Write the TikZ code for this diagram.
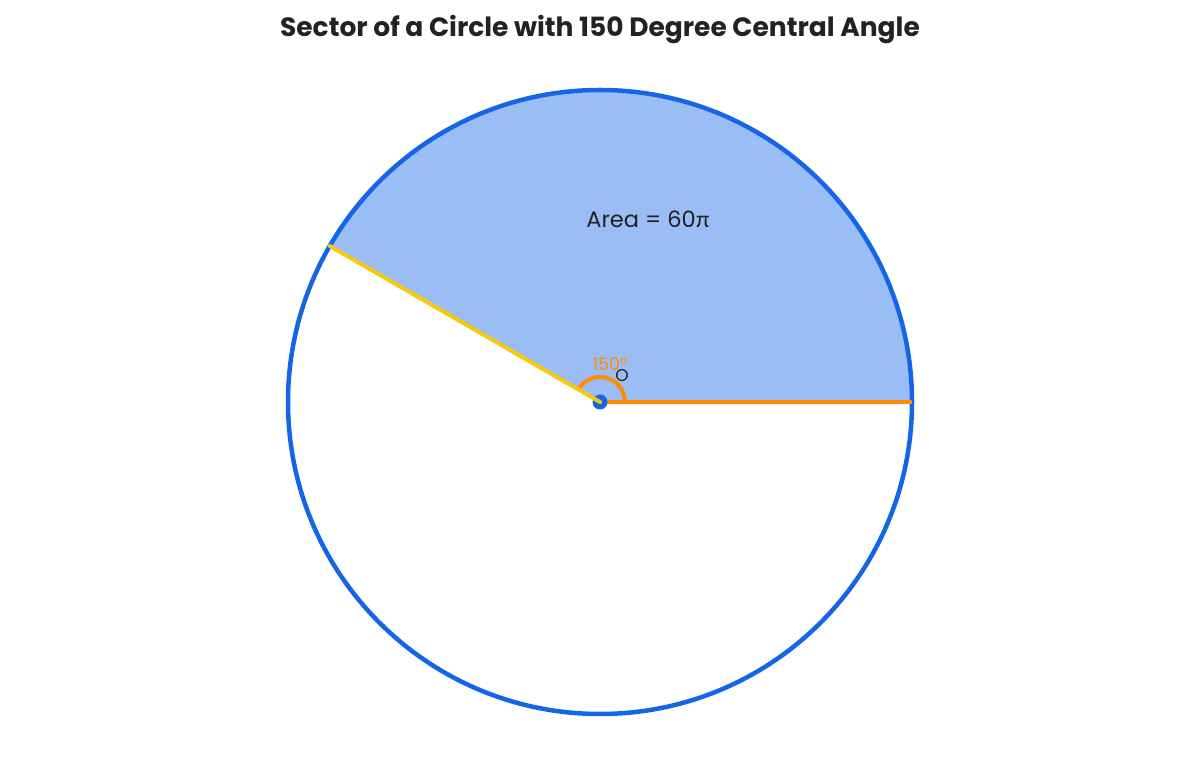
\documentclass[tikz,border=0pt]{standalone}
\usepackage{fontspec}
\setmainfont{Poppins}
\newfontfamily\pifont{Lato}
\usetikzlibrary{calc}
\definecolor{circblue}{HTML}{1565E8}
\definecolor{sectfill}{HTML}{9BBDF6}
\definecolor{radyellow}{HTML}{F7C90E}
\definecolor{radorange}{HTML}{FF8C00}
\definecolor{textgray}{HTML}{222222}

\begin{document}
\begin{tikzpicture}[x=1pt,y=1pt]
                    \useasboundingbox (0,0) rectangle (1200,763);
                    \coordinate (O) at (600,361);
                    \coordinate (a) at ($(O)+(0:312pt)$);
                    \coordinate (b) at ($(O)+(150:312pt)$);
                    \fill[sectfill] (O) -- (a) arc[start angle=0,end angle=150,radius=312pt] -- cycle;
                    \draw[circblue,line width=4.5pt] (O) circle[radius=312pt];
                    \draw[radorange,line width=4pt] (O) -- (a);
                    \draw[radorange,line width=4pt] ($(O)+(0:25pt)$) arc[start angle=0,end angle=150,radius=25pt];
                    \fill[circblue] (O) circle[radius=7.5pt];
                    \draw[radyellow,line width=4pt,line cap=round] (O) -- (b);
                    \node[text=radorange,font=\fontsize{17.5}{17.5}\selectfont,inner sep=0pt] (ang) at (610,399) {150°};
                    \node[text=textgray,font=\fontsize{17}{17}\selectfont,inner sep=0pt] (Olabel) at (622,387) {O};
                    \node[text=textgray,font=\fontsize{22.5}{22.5}\selectfont,inner sep=0pt] (area) at (648,544) {Area = 60{\pifont π}};
                    \node[text=textgray,font=\fontsize{26.5}{26.5}\selectfont\bfseries,inner sep=0pt] (title) at (600,733) {Sector of a Circle with 150 Degree Central Angle};
                \end{tikzpicture}
\end{document}
